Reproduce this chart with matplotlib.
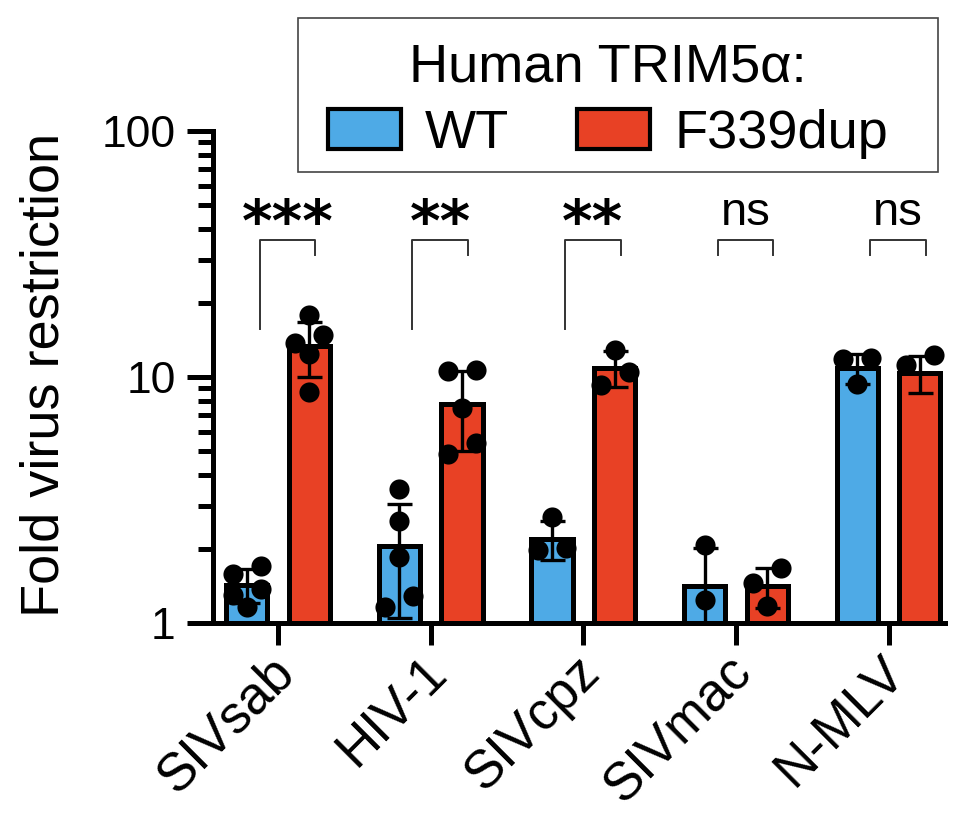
import numpy as np
import matplotlib
matplotlib.use('Agg')
import matplotlib.pyplot as plt
from matplotlib.patches import Patch, Rectangle
from matplotlib.transforms import ScaledTranslation

plt.rcParams['font.family'] = ['Liberation Sans', 'DejaVu Sans']

# data
viruses = ['SIVsab', 'HIV-1', 'SIVcpz', 'SIVmac', 'N-MLV']
wt_mean = [1.43, 2.05, 2.2, 1.42, 10.9]
wt_sd = [0.22, 1.0, 0.4, 0.6, 1.5]
dup_mean = [13.4, 7.8, 10.9, 1.41, 10.4]
dup_sd = [3.4, 2.8, 1.8, 0.26, 1.8]
wt_points = [[1.70, 1.58, 1.38, 1.30, 1.16],
             [3.52, 2.59, 1.85, 1.29, 1.16],
             [2.7, 2.02, 1.98],
             [2.07, 1.24, 0.85],
             [11.9, 11.8, 9.4]]
dup_points = [[17.9, 14.8, 13.8, 12.4, 8.7],
              [10.7, 10.6, 7.5, 5.4, 4.85],
              [12.9, 10.5, 9.3],
              [1.67, 1.45, 1.17],
              [12.3, 11.2]]
significance = ['***', '**', '**', 'ns', 'ns']

blue = '#4EAAE6'
red = '#E84125'

fig = plt.figure(figsize=(9.76, 8.3), dpi=100)
ax = fig.add_axes([213/976, 207/830, 732/976, 492/830])
ax.set_yscale('log')
ax.set_ylim(1, 100)
ax.set_xlim(-0.426, 4.37)

x = np.arange(len(viruses))
off = 0.205
bw = 0.27

ax.bar(x - off, np.array(wt_mean) - 1, bottom=1, width=bw, color=blue,
       edgecolor='black', linewidth=3.6, zorder=2)
ax.bar(x + off, np.array(dup_mean) - 1, bottom=1, width=bw, color=red,
       edgecolor='black', linewidth=3.6, zorder=2)
ax.errorbar(x - off, wt_mean, yerr=wt_sd, fmt='none', ecolor='black',
            elinewidth=2.4, capsize=9, capthick=2.4, zorder=3)
ax.errorbar(x + off, dup_mean, yerr=dup_sd, fmt='none', ecolor='black',
            elinewidth=2.4, capsize=9, capthick=2.4, zorder=3)

# simple beeswarm: points grouped into rows by pixel height, rows centered
px_per_x = ax.bbox.width / (ax.get_xlim()[1] - ax.get_xlim()[0])
step = 14 / px_per_x
def swarm(center, vals):
    vals = sorted(vals, reverse=True)
    ypx = [ax.transData.transform((0, v))[1] for v in vals]
    rows = []
    for v, yp in zip(vals, ypx):
        if rows and rows[-1][0][1] - yp < 16:
            rows[-1].append((v, yp))
        else:
            rows.append([(v, yp)])
    xs, ys = [], []
    for row in rows:
        n = len(row)
        for i, (v, yp) in enumerate(row):
            xs.append(center + ((n - 1) / 2 - i) * 2 * step)
            ys.append(v)
    return xs, ys

for i in range(len(viruses)):
    for c, pts in [(x[i] - off, wt_points[i]), (x[i] + off, dup_points[i])]:
        xs, ys = swarm(c, pts)
        ax.scatter(xs, ys, s=210, color='black', zorder=4, linewidths=0)

# significance brackets
for i, lab in enumerate(significance):
    x0, x1 = x[i] - 0.12, x[i] + 0.245
    left_end = 31.3 if lab == 'ns' else 15.7
    ax.plot([x0, x0, x1, x1], [left_end, 36, 36, 31.3], color='#333333',
            lw=1.4, clip_on=False, zorder=1)
    xm = (x0 + x1) / 2
    if lab == 'ns':
        ax.text(xm, 41.5, lab, ha='center', va='baseline', fontsize=34)
    else:
        ax.text(xm, 41.5, lab, ha='center', va='center', fontsize=42,
                fontweight='bold', family='DejaVu Sans')

for s in ['top', 'right']:
    ax.spines[s].set_visible(False)
for s in ['left', 'bottom']:
    ax.spines[s].set_linewidth(3.6)

ax.set_yticks([1, 10, 100])
ax.set_yticklabels(['1', '10', '100'])
ax.tick_params(axis='y', which='major', length=19, width=3.6, labelsize=32, pad=8)
ax.tick_params(axis='y', which='minor', length=10.5, width=3.6)
ax.set_xticks(x)
ax.set_xticklabels(viruses, rotation=45, ha='right', va='center',
                   rotation_mode='anchor', fontsize=38)
ax.tick_params(axis='x', length=16, width=3.6, pad=14)
ax.yaxis.set_minor_formatter(plt.NullFormatter())
for lbl in ax.get_xticklabels():
    lbl.set_transform(lbl.get_transform() + ScaledTranslation(6/72, 0, fig.dpi_scale_trans))

fig.text(45/976, 1 - 375/830, 'Fold virus restriction', rotation=90,
         ha='center', va='center', fontsize=39)

# legend: content without frame, box drawn separately
handles = [Patch(facecolor=blue, edgecolor='black', linewidth=3),
           Patch(facecolor=red, edgecolor='black', linewidth=3)]
leg = fig.legend(handles, ['WT', 'F339dup'], ncol=2, title='Human TRIM5α:',
                 loc='upper center', bbox_to_anchor=(608/976, 1 - 43/830),
                 fontsize=39, title_fontsize=39, handlelength=1.35,
                 handleheight=0.75, handletextpad=0.45, columnspacing=1.25,
                 labelspacing=0.29, frameon=False, borderpad=0, borderaxespad=0)
fig.patches.append(Rectangle((298/976, 1 - 172/830), 640/976, 154/830,
                             transform=fig.transFigure, fill=False,
                             edgecolor='#444444', linewidth=1.2))

fig.savefig('out.png', dpi=100)
